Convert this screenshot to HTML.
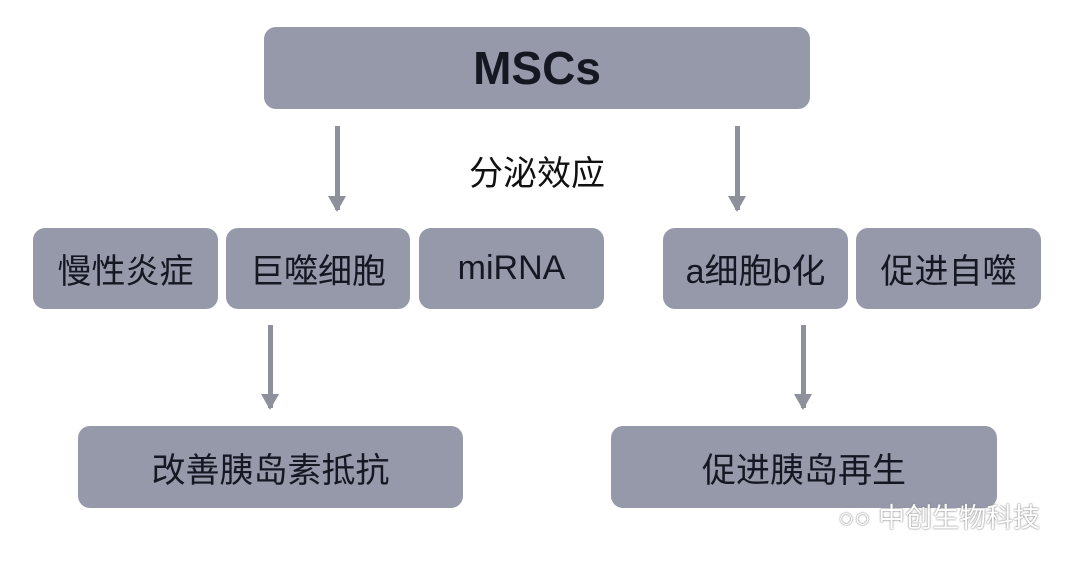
<!DOCTYPE html>
<html><head><meta charset="utf-8"><style>
body{margin:0;width:1080px;height:563px;background:#fff;position:relative;overflow:hidden;font-family:"Liberation Sans","Noto Sans CJK SC",sans-serif}
.b{position:absolute;background:#9599a9;border-radius:12px;display:flex;align-items:center;justify-content:center;color:#151822;font-size:34px}
.a{position:absolute;width:5px;background:#8e909c}
.a:after{content:"";position:absolute;left:-7px;bottom:-2px;border-left:9.5px solid transparent;border-right:9.5px solid transparent;border-top:16px solid #8e909c}
</style></head><body>
<div class="b" style="left:264px;top:27px;width:546px;height:82px;font-weight:bold;font-size:46px">MSCs</div>
<div class="a" style="left:335px;top:126px;height:84px"></div>
<div class="a" style="left:735px;top:126px;height:84px"></div>
<div style="position:absolute;left:437px;top:146px;width:200px;text-align:center;font-size:34px;color:#111">分泌效应</div>
<div class="b" style="left:33px;top:228px;width:185px;height:81px">慢性炎症</div>
<div class="b" style="left:226px;top:228px;width:184px;height:81px">巨噬细胞</div>
<div class="b" style="left:419px;top:228px;width:185px;height:81px">miRNA</div>
<div class="b" style="left:663px;top:228px;width:185px;height:81px">a细胞b化</div>
<div class="b" style="left:856px;top:228px;width:185px;height:81px">促进自噬</div>
<div class="a" style="left:268px;top:325px;height:83px"></div>
<div class="a" style="left:801px;top:325px;height:83px"></div>
<div class="b" style="left:78px;top:426px;width:385px;height:82px">改善胰岛素抵抗</div>
<div class="b" style="left:611px;top:426px;width:386px;height:82px">促进胰岛再生</div>
<div style="position:absolute;left:838px;top:496px;font-size:27px;color:#fff;text-shadow:0 0 2px #888,0 0 1px #888">&#9675;&#9675; 中创生物科技</div>
</body></html>
